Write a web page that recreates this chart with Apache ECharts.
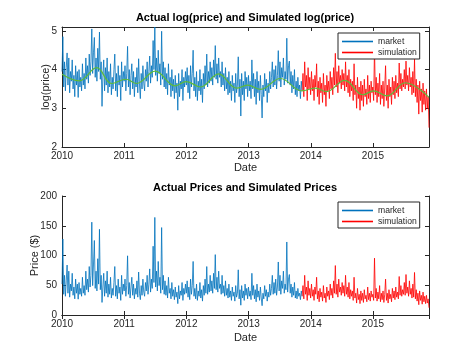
<!DOCTYPE html>
<html><head><meta charset="utf-8">
<script src="https://cdn.jsdelivr.net/npm/echarts@6/dist/echarts.min.js"></script>
<style>html,body{margin:0;padding:0;background:#fff}#c{width:474px;height:355px}</style>
</head><body><div id="c"></div>
<script>
// ---- data ----
const startYear = 2010, stepDays = 5;           // one value every 5 days from 2010-01-01
const axisStart = '2010-01-01', axisEnd = '2015-11-26';
const legendNames = ['market', 'simulation'];

const market2010 = [3.95,4.85,3.55,4.2,3.45,4.05,4.43,3.6,4.3,3.4,3.95,3.7,
  4.25,3.5,3.85,3.3,4.1,3.6,3.95,3.28,4.0,3.55,3.8,3.45,
  4.15,3.6,3.9,3.5,4.3,3.75,4.1,3.65,4.4,3.85,4.2,5.05,
  3.9,4.45,4.83,3.8,4.3,3.7,4.55,3.95,4.97,3.75,4.2,3.05,
  3.85,4.25,3.45,4.05,3.6,4.3,3.4,3.95,3.55,4.15,3.35,3.8,
  3.5,4.0,4.4,3.45,3.9,3.3,4.1,3.6,3.85,3.2,4.2,3.55,3.95];
const market2011 = [3.7,4.1,3.45,3.9,4.6,3.55,4.0,3.35,3.85,4.15,3.5,3.95,
  3.3,3.8,3.55,4.05,3.4,4.28,3.6,3.25,3.9,3.5,4.1,3.65,
  3.45,4.0,3.7,4.2,3.55,3.95,4.35,3.65,4.1,3.8,4.75,4.0,
  5.1,3.85,4.3,3.7,4.5,3.9,4.15,3.6,4.99,3.75,4.2,3.55,
  4.05,3.5,3.9,3.35,4.15,3.6,3.8,3.3,4.0,3.45,3.75,3.25,
  3.85,3.4,3.65,2.95,3.9,3.3,3.7,3.5,4.0,3.2,3.8,3.55,3.95];
const market2012 = [3.6,4.05,3.4,3.85,3.25,4.1,3.55,3.9,4.5,3.45,3.8,3.3,
  3.95,3.2,3.7,3.45,4.0,3.35,3.75,3.15,3.9,3.5,4.1,3.6,
  4.4,3.55,3.95,3.65,4.2,3.7,4.05,3.6,4.25,3.8,4.62,3.75,
  4.15,3.65,4.3,3.8,3.95,3.55,4.2,3.6,3.9,3.45,4.05,3.5,
  3.8,3.35,3.95,3.4,3.7,3.2,3.85,3.45,3.65,3.15,3.9,3.4,
  3.6,4.33,3.3,3.75,2.8,3.9,3.35,3.7,3.2,3.95,3.5,3.8,3.3];
const market2013 = [3.85,3.45,3.7,3.25,4.25,3.5,3.9,3.3,3.75,3.1,3.95,3.4,
  3.7,3.2,3.85,3.35,2.75,3.6,3.3,3.9,3.45,3.75,3.15,3.65,
  3.4,3.95,3.5,3.8,4.2,3.55,4.0,3.6,4.1,3.5,3.85,4.49,
  3.7,4.2,3.55,4.05,3.8,4.3,3.6,3.95,3.75,4.81,3.65,4.1,
  4.22,3.6,3.95,3.4,3.85,3.5,4.0,3.35,3.7,3.3,3.8,3.45,
  3.6,3.25,3.7,3.45];
// simulation starts at the last market value
const sim2013 = [3.45,3.9,3.3,4.2,3.55,3.85,3.2,4.05,3.5,3.8];
const sim2014 = [3.35,3.95,3.45,3.75,3.2,3.85,3.55,4.15,3.3,3.7,3.1,3.8,
  3.4,3.65,3.15,3.9,3.35,3.6,3.05,3.85,3.45,3.7,3.25,3.95,
  3.5,3.8,3.35,4.05,3.6,4.42,3.55,3.95,3.4,4.1,3.65,3.85,
  3.5,4.0,3.6,3.9,3.45,4.2,3.55,3.85,3.4,4.0,3.3,3.75,
  3.45,3.7,3.2,4.15,3.35,3.6,3.0,3.8,3.25,3.55,2.95,3.7,
  3.2,3.6,3.05,3.75,3.3,3.5,3.1,3.85,3.25,3.6,3.15,3.7,3.4];
const sim2015 = [3.55,3.2,4.56,3.35,3.8,3.15,3.65,3.3,3.9,3.1,3.6,3.25,
  3.7,3.05,3.55,4.1,3.2,3.6,3.0,3.75,3.3,3.55,3.1,3.8,
  3.35,3.7,3.25,3.85,3.4,3.65,3.3,4.17,3.5,3.9,3.45,3.75,
  3.55,4.0,3.5,4.22,3.6,3.85,3.45,4.05,3.55,3.8,3.35,3.95,
  3.4,4.27,3.3,3.75,3.15,3.6,2.85,3.7,3.2,3.5,2.9,3.65,
  3.1,3.45,2.95,3.5,3.0,3.3,2.5];

// smooth seasonal fit (green line)
const fitDates = ['2010-01-01','2010-04-12','2010-07-24','2010-10-19','2011-01-12','2011-03-15',
  '2011-07-02','2011-10-27','2012-01-01','2012-03-25','2012-07-08','2012-10-23','2012-12-25',
  '2013-03-11','2013-07-06','2013-11-10','2014-01-30','2014-04-02','2014-07-19','2014-11-03',
  '2015-01-05','2015-03-25','2015-07-09','2015-11-26'];
const fitLog = [3.88,3.71,4.05,3.64,3.75,3.64,3.96,3.58,3.69,3.55,3.89,3.52,3.60,
  3.49,3.77,3.45,3.52,3.43,3.72,3.35,3.45,3.32,3.66,3.28];

// ---- build ----
const marketLog = [].concat(market2010, market2011, market2012, market2013);
const simLog = [].concat(sim2013, sim2014, sim2015);
const simOffset = marketLog.length - 1;
function dateAt(i) { return new Date(startYear, 0, 1 + i * stepDays).getTime(); }
function toDate(s) { const p = s.split('-').map(Number); return new Date(p[0], p[1]-1, p[2]).getTime(); }
const mk = (arr, off, f) => arr.map((v, i) => [dateAt(i + off), f ? f(v) : v]);

const FONT = 'Liberation Sans, Arial, sans-serif';
const DARK = '#262626';
const YEAR = 365 * 864e5;

function xAx(gi, top) {
  return {
    type: 'time', gridIndex: gi, position: top ? 'top' : 'bottom',
    min: toDate(axisStart), max: toDate(axisEnd),
    minInterval: YEAR, maxInterval: 366 * 864e5,
    axisLine: { show: true, lineStyle: { color: DARK, width: 1 } },
    axisTick: { show: true, inside: true, length: 4, lineStyle: { color: DARK } },
    axisLabel: { show: !top, formatter: '{yyyy}', color: DARK, fontSize: 10, fontFamily: FONT, margin: 4,
      showMinLabel: true, showMaxLabel: false },
    splitLine: { show: false },
    name: top ? '' : 'Date', nameLocation: 'middle', nameGap: gi === 0 ? 15 : 17,
    nameMoveOverlap: false,
    nameTextStyle: { color: DARK, fontSize: 11, fontFamily: FONT }
  };
}
function yAx(gi, right, min, max, interval, name, gap) {
  return {
    type: 'value', gridIndex: gi, position: right ? 'right' : 'left',
    min: min, max: max, interval: interval,
    axisLine: { show: true, lineStyle: { color: DARK, width: 1 } },
    axisTick: { show: true, inside: true, length: 4, lineStyle: { color: DARK } },
    axisLabel: { show: !right, color: DARK, fontSize: 10, fontFamily: FONT, margin: 5 },
    splitLine: { show: false },
    name: right ? '' : name, nameLocation: 'middle', nameGap: gap,
    nameMoveOverlap: false,
    nameTextStyle: { color: DARK, fontSize: 11, fontFamily: FONT }
  };
}
function legendAt(top) {
  return {
    data: legendNames, orient: 'vertical', left: 338, top: top,
    icon: 'rect', itemWidth: 31, itemHeight: 1.6, itemGap: 0,
    padding: [3, 3, 1, 4], borderColor: DARK, borderWidth: 1, backgroundColor: '#fff',
    textStyle: { color: DARK, fontSize: 8.6, fontFamily: FONT, lineHeight: 11 },
    selectedMode: false
  };
}
function line(name, data, color, xi, yi, w, z) {
  return { name: name, type: 'line', data: data, xAxisIndex: xi, yAxisIndex: yi,
    showSymbol: false, symbol: 'none', lineStyle: { color: color, width: w }, itemStyle: { color: color },
    sampling: 'none', animation: false, z: z || 2 };
}

const chart = echarts.init(document.getElementById('c'), null, { renderer: 'canvas' });
chart.setOption({
  animation: false,
  backgroundColor: '#fff',
  title: [
    { text: 'Actual log(price) and Simulated log(price)', left: 245, top: 12, textAlign: 'center', padding: 0,
      textStyle: { color: '#000', fontSize: 11, fontWeight: 'bold', fontFamily: FONT } },
    { text: 'Actual Prices and Simulated Prices', left: 245, top: 182, textAlign: 'center', padding: 0,
      textStyle: { color: '#000', fontSize: 11, fontWeight: 'bold', fontFamily: FONT } }
  ],
  grid: [
    { left: 62, right: 45, top: 27, height: 120, outerBoundsMode: 'none' },
    { left: 62, right: 45, top: 196, height: 119, outerBoundsMode: 'none' }
  ],
  legend: [legendAt(33), legendAt(202)],
  xAxis: [xAx(0, false), xAx(0, true), xAx(1, false), xAx(1, true)],
  yAxis: [yAx(0, false, 2, 5.1, 1, 'log(price)', 11), yAx(0, true, 2, 5.1, 1, '', 0),
          yAx(1, false, 0, 200, 50, 'Price ($)', 22), yAx(1, true, 0, 200, 50, '', 0)],
  series: [
    line('market', mk(marketLog, 0), '#0072BD', 0, 0, 0.8),
    line('simulation', mk(simLog, simOffset), '#FF0000', 0, 0, 0.8),
    Object.assign(line('fit', fitDates.map((d, i) => [toDate(d), fitLog[i]]), '#5DBB3A', 0, 0, 1.2, 3), { smooth: 0.4 }),
    line('market', mk(marketLog, 0, Math.exp), '#0072BD', 2, 2, 0.8),
    line('simulation', mk(simLog, simOffset, Math.exp), '#FF0000', 2, 2, 0.8)
  ]
});
</script>
</body></html>
